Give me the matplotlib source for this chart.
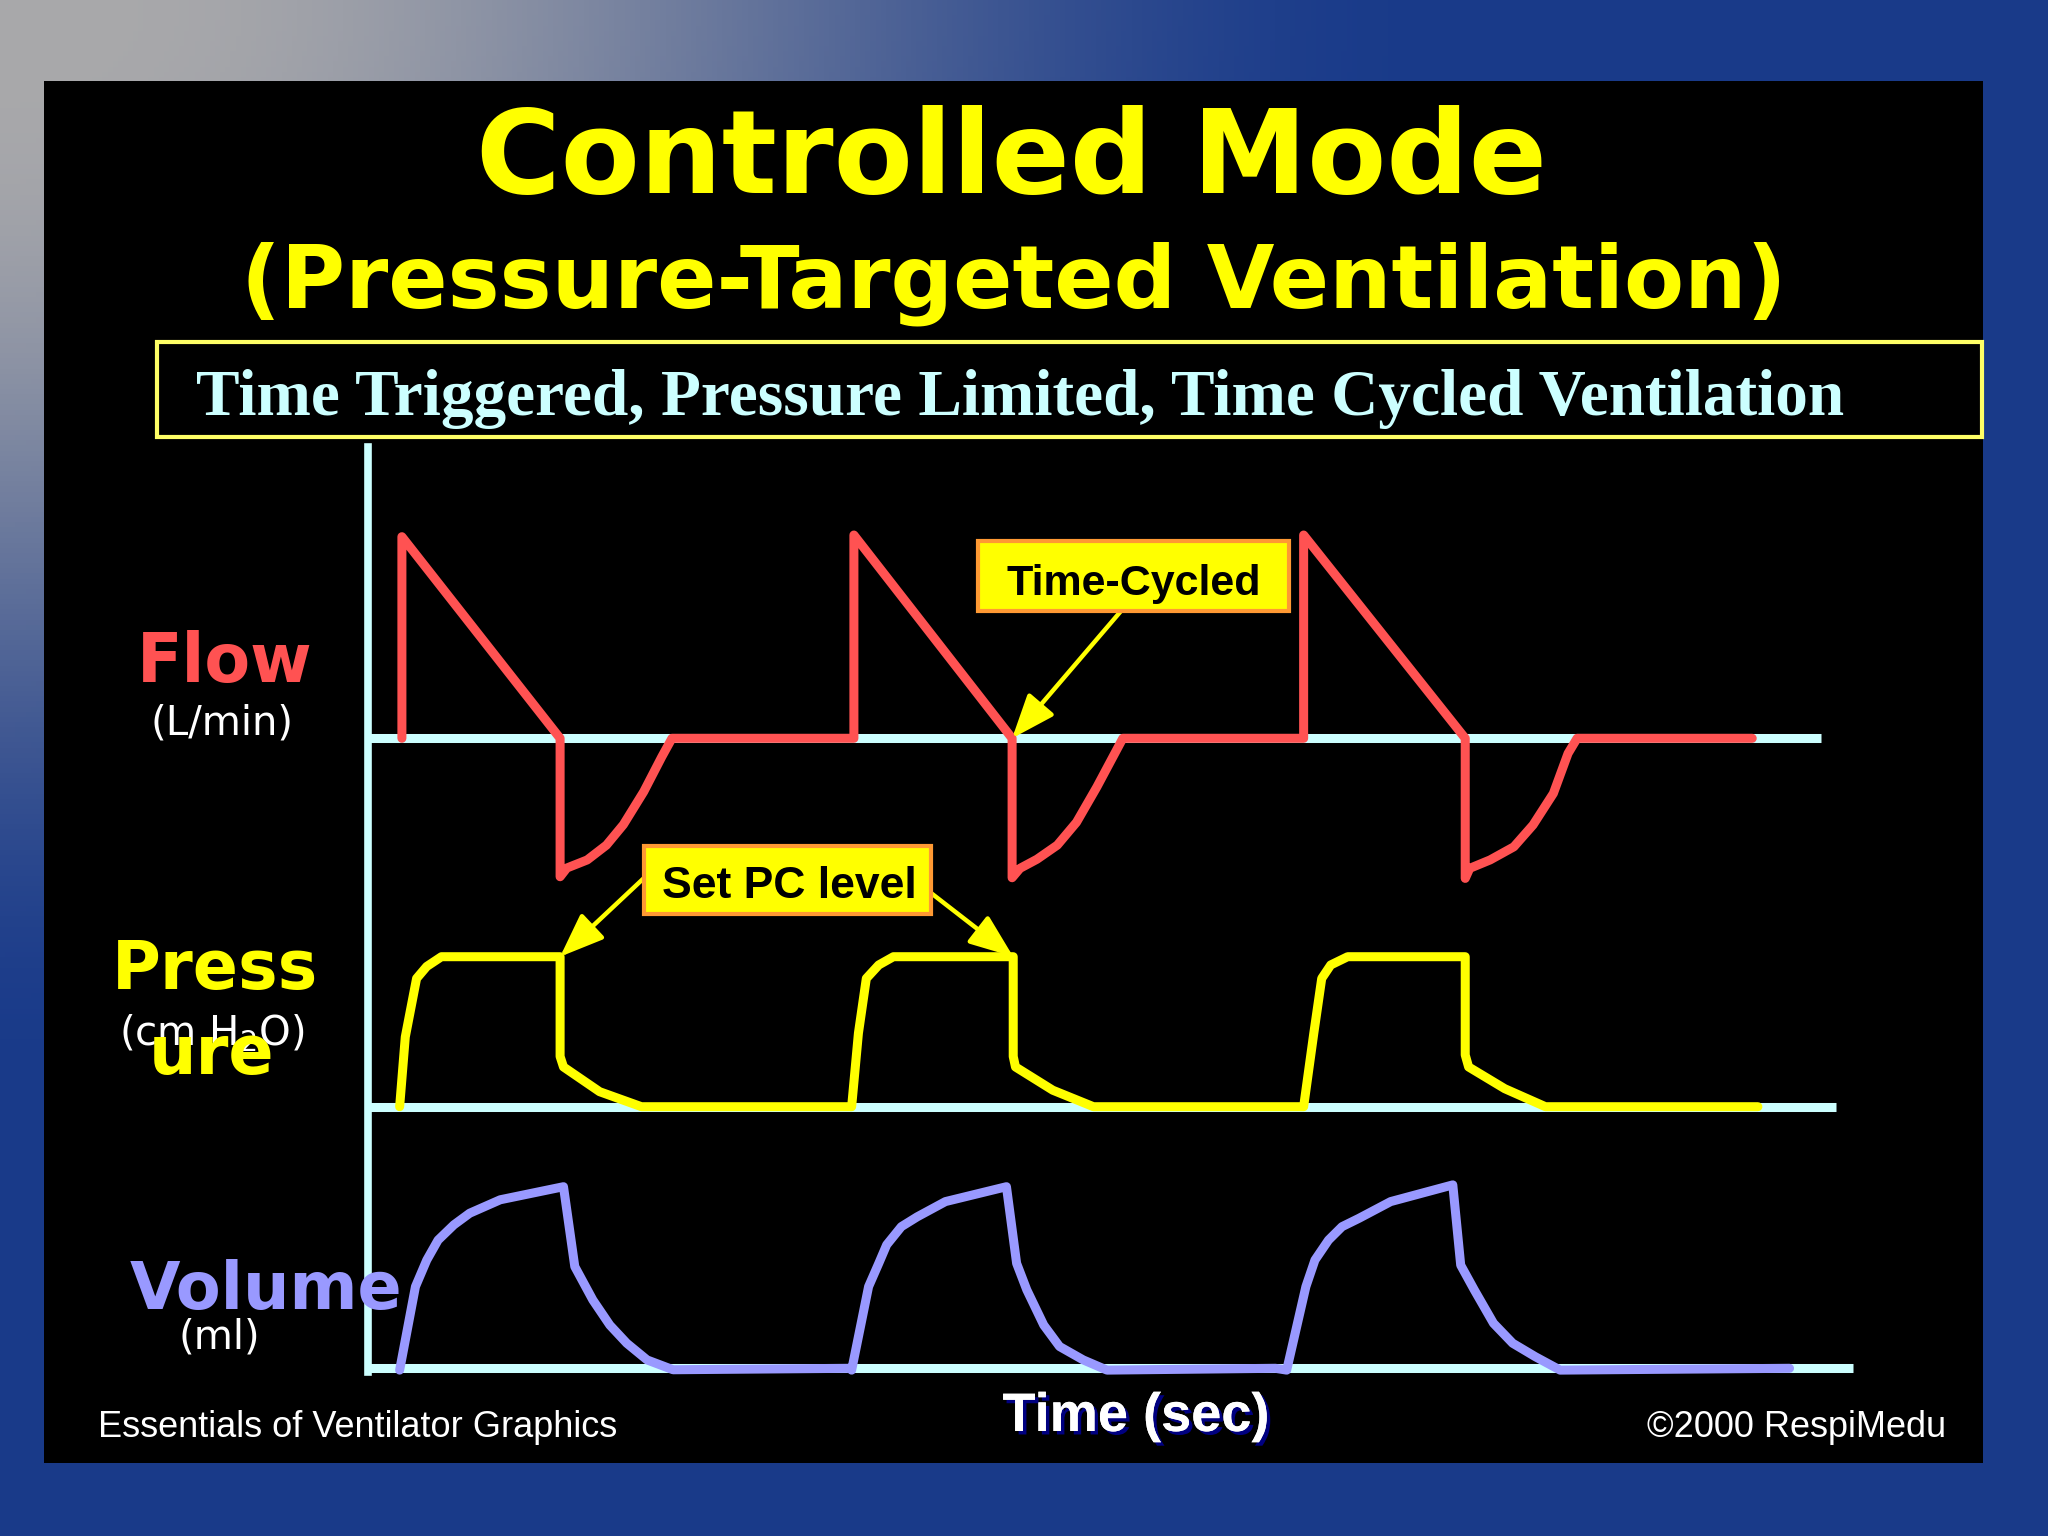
import numpy as np
import matplotlib
matplotlib.use("Agg")
import matplotlib.pyplot as plt
from matplotlib.patches import Rectangle
from matplotlib.lines import Line2D
import matplotlib.patheffects as pe

# ---------------- data (time in s) ----------------
flow_time = [0.30, 0.30, 1.70, 1.70, 1.76, 1.94, 2.11, 2.26, 2.44, 2.60, 2.69,
             4.30, 4.30, 5.70, 5.70, 5.77, 5.92, 6.10, 6.27, 6.45, 6.68,
             8.28, 8.28, 9.71, 9.71, 9.75, 9.93, 10.14, 10.31, 10.49, 10.62, 10.70, 12.25]
flow_lpm = [0, 60, 0, -41.2, -38.6, -36.2, -31.8, -25.7, -15.9, -5.5, 0,
            0, 60.5, 0, -41.5, -38.7, -36.0, -31.8, -25.0, -14.5, 0,
            0, 60.5, 0, -41.7, -38.7, -36.2, -32.3, -25.8, -16.4, -4.5, 0, 0]

press_time = [0.28, 0.33, 0.43, 0.52, 0.65, 1.70, 1.70, 1.73, 2.05, 2.42,
              4.28, 4.34, 4.41, 4.52, 4.65, 5.71, 5.71, 5.73, 6.06, 6.42,
              8.28, 8.37, 8.44, 8.52, 8.67, 9.71, 9.71, 9.74, 10.06, 10.42, 12.30]
press_cmh2o = [0, 9.3, 17.1, 18.7, 20, 20, 6.7, 5.3, 2.0, 0,
               0, 9.8, 17.1, 18.9, 20, 20, 6.7, 5.3, 2.2, 0,
               0, 9.8, 17.1, 18.9, 20, 20, 6.9, 5.3, 2.4, 0, 0]

vol_time = [0.28, 0.42, 0.52, 0.62, 0.76, 0.90, 1.17, 1.73, 1.83, 1.99, 2.14, 2.29, 2.47, 2.70, 4.27,
            4.28, 4.43, 4.52, 4.59, 4.72, 4.86, 5.11, 5.65, 5.74, 5.83, 5.98, 6.12, 6.33, 6.54, 8.03,
            8.13, 8.30, 8.38, 8.50, 8.62, 8.77, 9.05, 9.60, 9.67, 9.79, 9.96, 10.13, 10.33, 10.55, 12.58]
vol_ml = [-5, 225, 298, 353, 395, 427, 464, 500, 280, 188, 119, 69, 23, -4, 0,
          -5, 225, 289, 340, 390, 417, 459, 500, 289, 216, 119, 60, 23, -5, 0,
          -5, 225, 298, 353, 390, 413, 459, 505, 284, 216, 124, 69, 32, -5, 0]

baseline_end = {"flow": 12.86, "press": 12.99, "vol": 13.14}

# annotation targets (time, value)
time_cycled_target = (5.70, 0)
set_pc_targets = [(1.70, 20), (5.71, 20)]

title = "Controlled Mode"
subtitle = "(Pressure-Targeted Ventilation)"
boxed_text = "Time Triggered, Pressure Limited, Time Cycled Ventilation"

# ---------------- figure ----------------
W, H = 2048, 1536
fig = plt.figure(figsize=(W / 100, H / 100), dpi=100)

def fx(px):
    return px / W

def fy(py):
    return 1 - py / H

# background gradient
bg = fig.add_axes([0, 0, 1, 1], zorder=-10)
gx, gy = np.meshgrid(np.linspace(0, 1, 400), np.linspace(0, 1, 300))
d = np.sqrt(gx ** 2 + gy ** 2)
s = np.clip((d - 0.05) / 0.65, 0, 1)
s = s * s * (3 - 2 * s)
c0 = np.array([0.66, 0.66, 0.67])
c1 = np.array([0.10, 0.23, 0.54])
img = c0[None, None, :] * (1 - s[..., None]) + c1[None, None, :] * s[..., None]
bg.imshow(img, extent=[0, 1, 0, 1], origin="upper", aspect="auto")
bg.set_xlim(0, 1)
bg.set_ylim(0, 1)
bg.axis("off")

# black panel
fig.add_artist(Rectangle((fx(44), fy(1463)), fx(1983) - fx(44), fy(81) - fy(1463),
                         transform=fig.transFigure, facecolor="black", edgecolor="none",
                         zorder=-5))

# titles
fig.text(fx(1012), fy(193), title, ha="center", va="baseline", color="#ffff00",
         fontsize=83, fontweight="bold", family="DejaVu Sans")
fig.text(fx(1014), fy(307), subtitle, ha="center", va="baseline", color="#ffff00",
         fontsize=63, fontweight="bold", family="DejaVu Sans")

# boxed subtitle
fig.add_artist(Rectangle((fx(157), fy(437)), fx(1982) - fx(157), fy(342) - fy(437),
                         transform=fig.transFigure, facecolor="black", edgecolor="#ffff66",
                         lw=3))
fig.text(fx(1020), fy(415), boxed_text, ha="center", va="baseline", color="#ccffff",
         fontsize=47, fontweight="bold", family="Liberation Serif")

# ---------------- wave axes ----------------
X0, X1 = 368, 1868
PX_PER_S = 113.0
xlim = (0, (X1 - X0) / PX_PER_S)

def make_axes(top_px, bot_px, base_px, px_per_unit):
    ax = fig.add_axes([fx(X0), fy(bot_px), fx(X1) - fx(X0), (bot_px - top_px) / H])
    ax.set_xlim(*xlim)
    ax.set_ylim(-(bot_px - base_px) / px_per_unit, (base_px - top_px) / px_per_unit)
    ax.axis("off")
    ax.patch.set_alpha(0)
    return ax

ax_f = make_axes(500, 900, 738.3, 3.36)
ax_p = make_axes(930, 1130, 1106.7, 7.5)
ax_v = make_axes(1150, 1390, 1368.3, 0.3632)

axis_col = "#ccffff"
for ax, key in ((ax_f, "flow"), (ax_p, "press"), (ax_v, "vol")):
    ax.plot([0, baseline_end[key]], [0, 0], color=axis_col, lw=6.5,
            solid_capstyle="butt", clip_on=False, zorder=1)

# vertical axis line
fig.add_artist(Line2D([fx(368), fx(368)], [fy(447), fy(1372)], transform=fig.transFigure,
                      color=axis_col, lw=5.5, zorder=3))

lw = 6.5
ax_f.plot(flow_time, flow_lpm, color="#ff5252", lw=lw, solid_joinstyle="round",
          solid_capstyle="round", clip_on=False, zorder=3)
ax_p.plot(press_time, press_cmh2o, color="#ffff00", lw=lw, solid_joinstyle="round",
          solid_capstyle="round", clip_on=False, zorder=3)
ax_v.plot(vol_time, vol_ml, color="#9999ff", lw=lw, solid_joinstyle="round",
          solid_capstyle="round", clip_on=False, zorder=3)

# ---------------- annotations ----------------
arrow_kw = dict(arrowstyle="-|>,head_length=0.9,head_width=0.35", color="#ffff00",
                lw=3.2, mutation_scale=30, shrinkA=0, shrinkB=0)

fig.add_artist(Rectangle((fx(978), fy(611)), fx(1289) - fx(978), fy(541) - fy(611),
                         transform=fig.transFigure, facecolor="#ffff00", edgecolor="#ff9933",
                         lw=3, zorder=6))
fig.text(fx(1133.5), fy(595), "Time-Cycled", ha="center", va="baseline", color="black",
         fontsize=31, fontweight="bold", family="Liberation Sans", zorder=7)
ax_f.annotate("", xy=time_cycled_target, xycoords="data",
              xytext=(fx(1121), fy(611)), textcoords="figure fraction",
              arrowprops=arrow_kw, zorder=5, annotation_clip=False)

fig.add_artist(Rectangle((fx(644), fy(914)), fx(931) - fx(644), fy(846) - fy(914),
                         transform=fig.transFigure, facecolor="#ffff00", edgecolor="#ff9933",
                         lw=3, zorder=6))
fig.text(fx(789), fy(898), "Set PC level", ha="center", va="baseline", color="black",
         fontsize=32, fontweight="bold", family="Liberation Sans", zorder=7)
ax_p.annotate("", xy=set_pc_targets[0], xycoords="data",
              xytext=(fx(644), fy(878)), textcoords="figure fraction",
              arrowprops=arrow_kw, zorder=5, annotation_clip=False)
ax_p.annotate("", xy=set_pc_targets[1], xycoords="data",
              xytext=(fx(931), fy(893)), textcoords="figure fraction",
              arrowprops=arrow_kw, zorder=5, annotation_clip=False)

# ---------------- left labels ----------------
lab_font = "DejaVu Sans"
fig.text(fx(225), fy(682), "Flow", ha="center", va="baseline", color="#ff5252",
         fontsize=48, fontweight="bold", family=lab_font)
fig.text(fx(222), fy(735), "(L/min)", ha="center", va="baseline", color="white",
         fontsize=29, family=lab_font)
fig.text(fx(215), fy(989), "Press", ha="center", va="baseline", color="#ffff00",
         fontsize=48, fontweight="bold", family=lab_font, zorder=4)
fig.text(fx(212), fy(1045), "(cm H$_2$O)", ha="center", va="baseline", color="white",
         fontsize=29, family=lab_font, zorder=5)
fig.text(fx(212), fy(1074), "ure", ha="center", va="baseline", color="#ffff00",
         fontsize=48, fontweight="bold", family=lab_font, zorder=6)
fig.text(fx(266), fy(1309), "Volume", ha="center", va="baseline", color="#9999ff",
         fontsize=47, fontweight="bold", family=lab_font)
fig.text(fx(219), fy(1349), "(ml)", ha="center", va="baseline", color="white",
         fontsize=29, family=lab_font)

# ---------------- footer ----------------
fig.text(fx(98), fy(1437), "Essentials of Ventilator Graphics", ha="left", va="baseline",
         color="white", fontsize=26, family="Liberation Sans")
fig.text(fx(1946), fy(1437), "\u00a92000 RespiMedu", ha="right", va="baseline",
         color="white", fontsize=26, family="Liberation Sans")
fig.text(fx(1136), fy(1431), "Time (sec)", ha="center", va="baseline", color="white",
         fontsize=39, fontweight="bold", family="Liberation Sans",
         path_effects=[pe.withSimplePatchShadow(offset=(2.5, -2.5), shadow_rgbFace="#000080",
                                                alpha=1.0), pe.Normal()])

fig.savefig("out.png", dpi=100)
